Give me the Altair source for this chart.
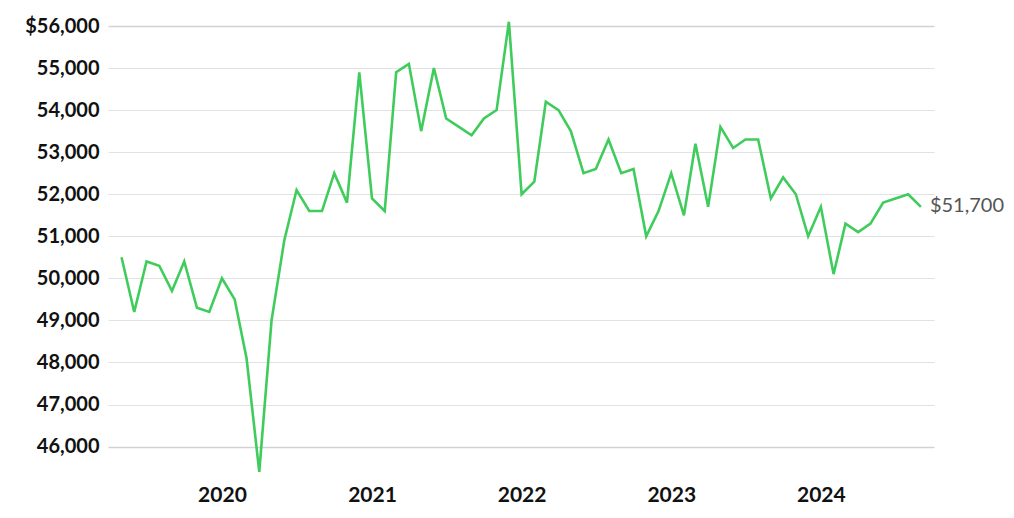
import altair as alt
import pandas as pd

# Monthly values, May 2019 - Sep 2024
months = pd.date_range("2019-05-01", "2024-09-01", freq="MS").strftime("%Y-%m-%d").tolist()
values = [
    50500, 49200, 50400, 50300, 49700, 50400, 49300, 49200,            # 2019 May-Dec
    50000, 49500, 48100, 45400, 49000, 50900, 52100, 51600, 51600, 52500, 51800, 54900,  # 2020
    51900, 51600, 54900, 55100, 53500, 55000, 53800, 53600, 53400, 53800, 54000, 56100,  # 2021
    52000, 52300, 54200, 54000, 53500, 52500, 52600, 53300, 52500, 52600, 51000, 51600,  # 2022
    52500, 51500, 53200, 51700, 53600, 53100, 53300, 53300, 51900, 52400, 52000, 51000,  # 2023
    51700, 50100, 51300, 51100, 51300, 51800, 51900, 52000, 51700,                       # 2024 Jan-Sep
]
y_ticks = [46000, 47000, 48000, 49000, 50000, 51000, 52000, 53000, 54000, 55000, 56000]
year_ticks = [2020, 2021, 2022, 2023, 2024]

df = pd.DataFrame({"date": months, "value": values})

x_enc = alt.X(
    "date:T",
    scale=alt.Scale(type="utc", domain=[alt.DateTime(year=2019, month=3, date=29, utc=True),
                                        alt.DateTime(year=2024, month=10, date=3, utc=True)]),
    axis=alt.Axis(
        values=[alt.DateTime(year=y, month=1, date=1, utc=True) for y in year_ticks],
        labelExpr="utcFormat(datum.value, '%Y')",
        grid=False, ticks=False, domain=False, title=None,
        labelFont="Lato", labelFontWeight="bold", labelFontSize=21,
        labelColor="#111111", labelPadding=8, labelFlush=False,
    ),
)
y_enc = alt.Y(
    "value:Q",
    scale=alt.Scale(domain=[45300, 56000], nice=False, zero=False),
    axis=alt.Axis(
        values=y_ticks,
        labelExpr="datum.value == 56000 ? '$' + format(datum.value, ',') : format(datum.value, ',')",
        ticks=False, domain=False, title=None,
        labelFont="Lato", labelFontWeight="bold", labelFontSize=20,
        labelColor="#111111", labelPadding=9,
        gridColor={"condition": {"test": "datum.value == 56000 || datum.value == 46000", "value": "#d2d2d2"}, "value": "#e2e2e2"},
        gridWidth={"condition": {"test": "datum.value == 56000 || datum.value == 46000", "value": 1.6}, "value": 1},
    ),
)

base = alt.Chart(df)
line = base.mark_line(color="#3fcc5c", strokeWidth=2.6, strokeJoin="miter").encode(x=x_enc, y=y_enc)

label = (
    base.transform_window(rn="row_number()", sort=[alt.SortField("date", order="descending")])
    .transform_filter("datum.rn == 1")
    .transform_calculate(txt="'$' + format(datum.value, ',')")
    .mark_text(align="left", baseline="middle", dx=9, dy=-1, fontSize=20,
               font="Lato", color="#555555")
    .encode(x=x_enc, y=y_enc, text="txt:N")
)

chart = (
    alt.layer(line, label)
    .properties(
        width=826, height=450,
        autosize=alt.AutoSizeParams(type="none"),
        padding={"left": 100, "top": 18, "right": 72, "bottom": 34},
        background="white",
    )
    .configure_view(stroke=None)
)

chart.save("out.html", embed_options={"renderer": "svg", "actions": False})
